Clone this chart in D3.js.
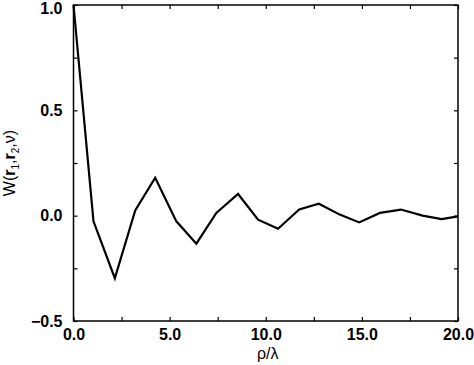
<!DOCTYPE html>
<html>
<head>
<meta charset="utf-8">
<script src="https://cdn.jsdelivr.net/npm/d3@7/dist/d3.min.js"></script>
<style>
  body { margin: 0; background: #fff; }
  svg { display: block; }
  text { font-family: "Liberation Sans", Arial, sans-serif; fill: #000; }
</style>
</head>
<body>
<div id="chart"></div>
<script>
// Data
const xValues = [0.0, 1.04, 2.15, 3.21, 4.25, 5.35, 6.39, 7.43, 8.56, 9.6, 10.64, 11.74, 12.76, 13.85, 14.86, 15.94, 17.03, 18.16, 19.15, 20.0];
const yValues = [1.0, -0.027, -0.297, 0.025, 0.18, -0.027, -0.133, 0.013, 0.103, -0.019, -0.062, 0.029, 0.057, 0.005, -0.032, 0.013, 0.029, 0.0, -0.016, -0.003];
const xTicks = [0, 2.5, 5, 7.5, 10, 12.5, 15, 17.5, 20];
const xTickLabels = ["0.0", "", "5.0", "", "10.0", "", "15.0", "", "20.0"];
const yTicks = [-0.5, -0.25, 0, 0.25, 0.5, 0.75, 1.0];
const yTickLabels = ["\u22120.5", "", "0.0", "", "0.5", "", "1.0"];

const W = 474, H = 365;
const mLeft = 73.5, mRight = 458, mTop = 5, mBottom = 321;

const svg = d3.select("#chart").append("svg").attr("width", W).attr("height", H);

const x = d3.scaleLinear().domain([0, 20]).range([mLeft, mRight]);
const y = d3.scaleLinear().domain([-0.5, 1.0]).range([mBottom, mTop]);

const tickLen = 4;
function styleAxis(g) {
  g.select(".domain").remove();
  g.selectAll(".tick line").attr("stroke", "#000").attr("stroke-width", 1.2);
}

// bottom axis
svg.append("g").attr("transform", `translate(0,${mBottom})`)
  .call(d3.axisBottom(x).tickValues(xTicks).tickSizeInner(-tickLen).tickSizeOuter(0)
    .tickFormat((d, i) => xTickLabels[i]).tickPadding(8))
  .call(styleAxis)
  .call(g => g.selectAll("text").attr("font-size", 16).attr("font-weight", "bold").attr("dy", "0.71em"));

// top axis
svg.append("g").attr("transform", `translate(0,${mTop})`)
  .call(d3.axisTop(x).tickValues(xTicks).tickSizeInner(-tickLen).tickSizeOuter(0).tickFormat(""))
  .call(styleAxis);

// left axis
svg.append("g").attr("transform", `translate(${mLeft},0)`)
  .call(d3.axisLeft(y).tickValues(yTicks).tickSizeInner(-tickLen).tickSizeOuter(0)
    .tickFormat((d, i) => yTickLabels[i]).tickPadding(11))
  .call(styleAxis)
  .call(g => g.selectAll("text").attr("font-size", 16).attr("font-weight", "bold"))
  .call(g => g.selectAll(".tick").filter(d => d === 1.0).select("text").attr("dy", "0.5em"));

// right axis
svg.append("g").attr("transform", `translate(${mRight},0)`)
  .call(d3.axisRight(y).tickValues(yTicks).tickSizeInner(-tickLen).tickSizeOuter(0).tickFormat(""))
  .call(styleAxis);

// frame
svg.append("rect")
  .attr("x", mLeft).attr("y", mTop)
  .attr("width", mRight - mLeft).attr("height", mBottom - mTop)
  .attr("fill", "none").attr("stroke", "#000").attr("stroke-width", 1.5);

// data line
const pts = xValues.map((v, i) => [v, yValues[i]]);
svg.append("path")
  .datum(pts)
  .attr("fill", "none")
  .attr("stroke", "#000")
  .attr("stroke-width", 2.2)
  .attr("stroke-linejoin", "miter")
  .attr("d", d3.line().x(d => x(d[0])).y(d => y(d[1])));

// x label
svg.append("text")
  .attr("x", (mLeft + mRight) / 2 + 2).attr("y", 359)
  .attr("text-anchor", "middle")
  .attr("font-size", 16)
  .text("\u03C1/\u03BB");

// y label
const yl = svg.append("text")
  .attr("transform", `translate(15,${(mTop + mBottom) / 2}) rotate(-90)`)
  .attr("text-anchor", "middle")
  .attr("font-size", 16);
yl.append("tspan").text("W(");
yl.append("tspan").attr("font-weight", "bold").text("r");
yl.append("tspan").attr("font-size", 10).attr("dy", 4).text("1");
yl.append("tspan").attr("dy", -4).text(",");
yl.append("tspan").attr("font-weight", "bold").text("r");
yl.append("tspan").attr("font-size", 10).attr("dy", 4).text("2");
yl.append("tspan").attr("dy", -4).text(",\u03BD)");
</script>
</body>
</html>
